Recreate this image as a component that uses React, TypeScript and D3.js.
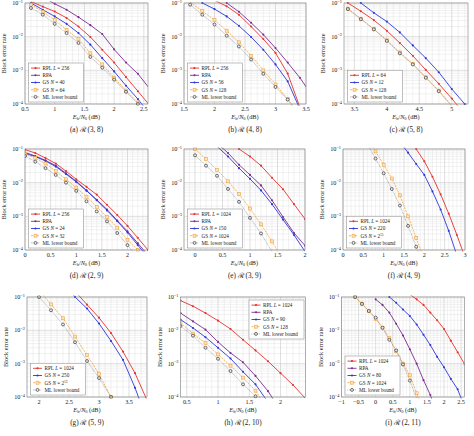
import * as d3 from 'd3';

type Pt = [number, number];
type Kind = 'rpl' | 'rpa' | 'gs' | 'gsb' | 'ml';

// (a) R(3,8)
const aRpl: Pt[] = [[0.6, 0.11], [0.8, 0.078], [1.0, 0.056], [1.2, 0.036], [1.4, 0.02], [1.6, 0.0098], [1.8, 0.0041], [2.0, 0.0017], [2.2, 0.00063], [2.4, 0.00024], [2.6, 0.00009]];
const aRpa: Pt[] = [[0.8, 0.15], [1.0, 0.095], [1.2, 0.063], [1.4, 0.038], [1.6, 0.022], [1.8, 0.012], [2.0, 0.0042], [2.2, 0.0017], [2.4, 0.00079], [2.6, 0.00028]];
const aGs: Pt[] = [[0.6, 0.1], [0.8, 0.063], [1.0, 0.04], [1.2, 0.024], [1.4, 0.0128], [1.6, 0.0058], [1.8, 0.0023], [2.0, 0.00093], [2.2, 0.00035], [2.4, 0.00014], [2.6, 0.00005]];
const aGsb: Pt[] = [[0.6, 0.09], [0.8, 0.055], [1.0, 0.031], [1.2, 0.016], [1.4, 0.0085], [1.6, 0.0032], [1.8, 0.0015], [2.0, 0.0006], [2.2, 0.00025], [2.4, 0.00011]];
const aMl: Pt[] = [[0.6, 0.071], [0.8, 0.045], [1.0, 0.024], [1.2, 0.0128], [1.4, 0.0065], [1.6, 0.0025], [1.8, 0.0012], [2.0, 0.00053], [2.2, 0.00023], [2.4, 0.0001]];

// (b) R(4,8)
const bRpl: Pt[] = [[2.0, 0.12], [2.2, 0.08], [2.4, 0.045], [2.6, 0.02], [2.8, 0.0085], [3.0, 0.0033], [3.2, 0.0008], [3.4, 0.00008]];
const bRpa: Pt[] = [[2.2, 0.1], [2.4, 0.055], [2.6, 0.026], [2.8, 0.0115], [3.0, 0.0046], [3.2, 0.0017], [3.4, 0.0006], [3.6, 0.00018]];
const bGs: Pt[] = [[1.8, 0.1], [2.0, 0.066], [2.2, 0.04], [2.4, 0.021], [2.6, 0.0098], [2.8, 0.0041], [3.0, 0.0015], [3.2, 0.00047], [3.4, 0.00007]];
const bGsb: Pt[] = [[1.6, 0.105], [1.8, 0.058], [2.0, 0.031], [2.2, 0.015], [2.4, 0.0068], [2.6, 0.0027], [2.8, 0.001], [3.0, 0.00038], [3.2, 0.00014], [3.4, 0.00004]];
const bMl: Pt[] = [[1.6, 0.089], [1.8, 0.045], [2.0, 0.023], [2.2, 0.0107], [2.4, 0.0051], [2.6, 0.0021], [2.8, 0.00079], [3.0, 0.00032], [3.2, 0.000135], [3.4, 0.00005]];

// (c) R(5,8)
const cRpl: Pt[] = [[3.4, 0.1], [3.6, 0.057], [3.8, 0.031], [4.0, 0.015], [4.2, 0.0065], [4.4, 0.0027], [4.6, 0.00103], [4.8, 0.0004], [5.0, 0.000145], [5.2, 0.00005]];
const cGs: Pt[] = [[3.6, 0.1], [3.8, 0.051], [4.0, 0.028], [4.2, 0.0134], [4.4, 0.0055], [4.6, 0.0023], [4.8, 0.00088], [5.0, 0.00028], [5.2, 0.0001]];
const cGsb: Pt[] = [[3.4, 0.068], [3.6, 0.034], [3.8, 0.017], [4.0, 0.0078], [4.2, 0.0034], [4.4, 0.00155], [4.6, 0.00062], [4.8, 0.00025], [5.0, 0.00009]];
const cMl: Pt[] = [[3.4, 0.066], [3.6, 0.033], [3.8, 0.0165], [4.0, 0.0075], [4.2, 0.0032], [4.4, 0.0015], [4.6, 0.0006], [4.8, 0.00024], [5.0, 0.000085]];

// (d) R(2,9)
const dRpl: Pt[] = [[0, 0.096], [0.2, 0.076], [0.4, 0.054], [0.6, 0.037], [0.8, 0.022], [1.0, 0.0126], [1.2, 0.0075], [1.4, 0.0044], [1.6, 0.0022], [1.8, 0.0011], [2.0, 0.00052], [2.2, 0.00023], [2.4, 0.0001]];
const dRpa: Pt[] = [[0, 0.079], [0.2, 0.062], [0.4, 0.046], [0.6, 0.032], [0.8, 0.019], [1.0, 0.011], [1.2, 0.0059], [1.4, 0.0031], [1.6, 0.0016], [1.8, 0.00075], [2.0, 0.00036], [2.2, 0.00016], [2.4, 0.00007]];
const dGs: Pt[] = [[0, 0.074], [0.2, 0.06], [0.4, 0.044], [0.6, 0.03], [0.8, 0.018], [1.0, 0.0105], [1.2, 0.0058], [1.4, 0.003], [1.6, 0.0015], [1.8, 0.00072], [2.0, 0.00033], [2.2, 0.00014], [2.4, 0.00006]];
const dGsb: Pt[] = [[0, 0.072], [0.2, 0.054], [0.4, 0.037], [0.6, 0.022], [0.8, 0.0126], [1.0, 0.0071], [1.2, 0.0038], [1.4, 0.0019], [1.6, 0.00095], [1.8, 0.00046], [2.0, 0.0002], [2.2, 0.0001]];
const dMl: Pt[] = [[0, 0.062], [0.2, 0.042], [0.4, 0.027], [0.6, 0.017], [0.8, 0.01], [1.0, 0.0057], [1.2, 0.0028], [1.4, 0.0014], [1.6, 0.00071], [1.8, 0.00032], [2.0, 0.00014], [2.2, 0.00006]];

// (e) R(3,9)
const eRpl: Pt[] = [[0.8, 0.1], [1.0, 0.06], [1.2, 0.032], [1.4, 0.014], [1.6, 0.0064], [1.8, 0.0023], [2.0, 0.00083]];
const eRpa: Pt[] = [[0.4, 0.15], [0.6, 0.076], [0.8, 0.034], [1.0, 0.017], [1.2, 0.0083], [1.4, 0.003], [1.6, 0.00096], [1.8, 0.00032], [2.0, 0.000135]];
const eGs: Pt[] = [[0.4, 0.12], [0.6, 0.06], [0.8, 0.027], [1.0, 0.013], [1.2, 0.0059], [1.4, 0.0023], [1.6, 0.0008], [1.8, 0.00028], [2.0, 0.00009]];
const eGsb: Pt[] = [[0, 0.1], [0.2, 0.05], [0.4, 0.024], [0.6, 0.011], [0.8, 0.0046], [1.0, 0.0017], [1.2, 0.00058], [1.4, 0.00018], [1.6, 0.00005]];
const eMl: Pt[] = [[0, 0.065], [0.2, 0.032], [0.4, 0.016], [0.6, 0.0065], [0.8, 0.0027], [1.0, 0.0009], [1.2, 0.00031], [1.4, 0.00009]];

// (f) R(4,9)
const fRpl: Pt[] = [[1.8, 0.1], [2.0, 0.043], [2.2, 0.015], [2.4, 0.0045], [2.6, 0.0012], [2.8, 0.00028], [3.0, 0.00006]];
const fGs: Pt[] = [[1.4, 0.16], [1.6, 0.078], [1.8, 0.036], [2.0, 0.017], [2.2, 0.0055], [2.4, 0.0016], [2.6, 0.00037], [2.8, 0.00007]];
const fGsb: Pt[] = [[0.6, 0.2], [0.8, 0.085], [1.0, 0.034], [1.2, 0.0133], [1.4, 0.0042], [1.6, 0.001], [1.8, 0.00023], [2.0, 0.00005]];
const fMl: Pt[] = [[0.6, 0.14], [0.8, 0.052], [1.0, 0.019], [1.2, 0.0065], [1.4, 0.0021], [1.6, 0.00052], [1.8, 0.000125], [2.0, 0.00003]];

// (g) R(5,9)
const gRpl: Pt[] = [[2.6, 0.15], [2.8, 0.059], [3.0, 0.024], [3.2, 0.0083], [3.4, 0.0023], [3.6, 0.00052], [3.8, 0.00008]];
const gGs: Pt[] = [[2.4, 0.3], [2.6, 0.1], [2.8, 0.045], [3.0, 0.016], [3.2, 0.0048], [3.4, 0.0013], [3.6, 0.00019], [3.8, 0.00002]];
const gGsb: Pt[] = [[2.0, 0.16], [2.2, 0.06], [2.4, 0.023], [2.6, 0.0065], [2.8, 0.0018], [3.0, 0.00049], [3.2, 0.0001]];
const gMl: Pt[] = [[2.0, 0.1], [2.2, 0.04], [2.4, 0.015], [2.6, 0.0044], [2.8, 0.0012], [3.0, 0.00037], [3.2, 0.0001]];

// (h) R(2,10)
const hRpl: Pt[] = [[0.4, 0.078], [0.6, 0.053], [0.8, 0.033], [1.0, 0.0195], [1.2, 0.011], [1.4, 0.0052], [1.6, 0.0025], [1.8, 0.00118], [2.0, 0.00052], [2.2, 0.00023], [2.4, 0.00009]];
const hRpa: Pt[] = [[0.4, 0.033], [0.6, 0.0186], [0.8, 0.0105], [1.0, 0.0045], [1.2, 0.0021], [1.4, 0.0011], [1.6, 0.00043], [1.8, 0.00015], [2.0, 0.00004]];
const hGs: Pt[] = [[0.4, 0.021], [0.6, 0.0118], [0.8, 0.0062], [1.0, 0.003], [1.2, 0.00143], [1.4, 0.00057], [1.6, 0.00024], [1.8, 0.00007]];
const hGsb: Pt[] = [[0.4, 0.017], [0.6, 0.0079], [0.8, 0.0042], [1.0, 0.0019], [1.2, 0.00087], [1.4, 0.00038], [1.6, 0.000155], [1.8, 0.00004]];
const hMl: Pt[] = [[0.4, 0.0135], [0.6, 0.0069], [0.8, 0.003], [1.0, 0.0014], [1.2, 0.0006], [1.4, 0.00024], [1.6, 0.000105]];

// (i) R(2,11)
const iRpl: Pt[] = [[1.0, 0.12], [1.2, 0.085], [1.4, 0.058], [1.6, 0.034], [1.8, 0.02], [2.0, 0.011], [2.2, 0.0049], [2.4, 0.0022], [2.6, 0.00098]];
const iRpa: Pt[] = [[0, 0.085], [0.2, 0.058], [0.4, 0.034], [0.6, 0.0158], [0.8, 0.007], [1.0, 0.0027], [1.2, 0.001], [1.4, 0.00032], [1.6, 0.000115], [1.8, 0.00003]];
const iGs: Pt[] = [[0.4, 0.1], [0.6, 0.067], [0.8, 0.042], [1.0, 0.027], [1.2, 0.015], [1.4, 0.0074], [1.6, 0.0036], [1.8, 0.0016], [2.0, 0.00078], [2.2, 0.00035], [2.4, 0.00017], [2.6, 0.00005]];
const iGsb: Pt[] = [[-0.6, 0.1], [-0.4, 0.063], [-0.2, 0.038], [0, 0.022], [0.2, 0.012], [0.4, 0.0058], [0.6, 0.0024], [0.8, 0.001], [1.0, 0.00045], [1.2, 0.00013], [1.4, 0.00004]];
const iMl: Pt[] = [[-0.6, 0.1], [-0.4, 0.062], [-0.2, 0.038], [0, 0.024], [0.2, 0.012], [0.4, 0.0052], [0.6, 0.0025], [0.8, 0.00095], [1.0, 0.00031], [1.2, 0.00009]];

const Y_EXPONENTS = [-1, -2, -3, -4];

const COLORS: Record<Kind, string> = {
  rpl: '#e8312c',
  rpa: '#7b2d8f',
  gs: '#2b35dc',
  gsb: '#f2a23a',
  ml: '#555555',
};

const FONT = '"Liberation Serif", "DejaVu Serif", serif';

interface Series { kind: Kind; data: Pt[]; param?: string; sup?: string }
interface PanelSpec {
  letter: string; code: string;
  left: number; right: number; top: number; bottom: number;
  xDomain: [number, number]; xTicks: number[];
  legend: 'bl' | 'tr';
  series: Series[];
}

const panels: PanelSpec[] = [
  { letter: 'a', code: '3, 8', left: 25, right: 148, top: 3, bottom: 104, xDomain: [0.5, 2.57], xTicks: [0.5, 1, 1.5, 2, 2.5], legend: 'bl',
    series: [{ kind: 'rpl', data: aRpl, param: '256' }, { kind: 'rpa', data: aRpa }, { kind: 'gs', data: aGs, param: '40' }, { kind: 'gsb', data: aGsb, param: '64' }, { kind: 'ml', data: aMl }] },
  { letter: 'b', code: '4, 8', left: 184, right: 306, top: 3, bottom: 104, xDomain: [1.5, 3.5], xTicks: [1.5, 2, 2.5, 3, 3.5], legend: 'bl',
    series: [{ kind: 'rpl', data: bRpl, param: '256' }, { kind: 'rpa', data: bRpa }, { kind: 'gs', data: bGs, param: '56' }, { kind: 'gsb', data: bGsb, param: '128' }, { kind: 'ml', data: bMl }] },
  { letter: 'c', code: '5, 8', left: 344, right: 468, top: 3, bottom: 104, xDomain: [3.34, 5.25], xTicks: [3.5, 4, 4.5, 5], legend: 'bl',
    series: [{ kind: 'rpl', data: cRpl, param: '64' }, { kind: 'gs', data: cGs, param: '12' }, { kind: 'gsb', data: cGsb, param: '128' }, { kind: 'ml', data: cMl }] },
  { letter: 'd', code: '2, 9', left: 25, right: 148, top: 149, bottom: 250, xDomain: [0, 2.4], xTicks: [0, 0.5, 1, 1.5, 2], legend: 'bl',
    series: [{ kind: 'rpl', data: dRpl, param: '256' }, { kind: 'rpa', data: dRpa }, { kind: 'gs', data: dGs, param: '24' }, { kind: 'gsb', data: dGsb, param: '32' }, { kind: 'ml', data: dMl }] },
  { letter: 'e', code: '3, 9', left: 184, right: 305, top: 149, bottom: 250, xDomain: [-0.2, 2], xTicks: [0, 0.5, 1, 1.5, 2], legend: 'bl',
    series: [{ kind: 'rpl', data: eRpl, param: '1024' }, { kind: 'rpa', data: eRpa }, { kind: 'gs', data: eGs, param: '150' }, { kind: 'gsb', data: eGsb, param: '1024' }, { kind: 'ml', data: eMl }] },
  { letter: 'f', code: '4, 9', left: 343, right: 465, top: 149, bottom: 250, xDomain: [0, 3], xTicks: [0, 0.5, 1, 1.5, 2, 2.5, 3], legend: 'bl',
    series: [{ kind: 'rpl', data: fRpl, param: '1024' }, { kind: 'gs', data: fGs, param: '220' }, { kind: 'gsb', data: fGsb, param: '2', sup: '15' }, { kind: 'ml', data: fMl }] },
  { letter: 'g', code: '5, 9', left: 27, right: 147, top: 297, bottom: 397, xDomain: [1.8, 3.8], xTicks: [2, 2.5, 3, 3.5], legend: 'bl',
    series: [{ kind: 'rpl', data: gRpl, param: '1024' }, { kind: 'gs', data: gGs, param: '250' }, { kind: 'gsb', data: gGsb, param: '2', sup: '13' }, { kind: 'ml', data: gMl }] },
  { letter: 'h', code: '2, 10', left: 180.5, right: 305.5, top: 297, bottom: 397, xDomain: [0.4, 2.4], xTicks: [0.5, 1, 1.5, 2], legend: 'tr',
    series: [{ kind: 'rpl', data: hRpl, param: '1024' }, { kind: 'rpa', data: hRpa }, { kind: 'gs', data: hGs, param: '90' }, { kind: 'gsb', data: hGsb, param: '128' }, { kind: 'ml', data: hMl }] },
  { letter: 'i', code: '2, 11', left: 341.5, right: 464.5, top: 297, bottom: 397, xDomain: [-1, 2.6], xTicks: [-1, -0.5, 0, 0.5, 1, 1.5, 2, 2.5], legend: 'bl',
    series: [{ kind: 'rpl', data: iRpl, param: '1024' }, { kind: 'rpa', data: iRpa }, { kind: 'gs', data: iGs, param: '80' }, { kind: 'gsb', data: iGsb, param: '1024' }, { kind: 'ml', data: iMl }] },
];

function fmtTick(v: number) {
  return v < 0 ? '\u2212' + String(Math.abs(v)) : String(v);
}

function Marker({ kind, cx, cy }: { kind: Kind; cx: number; cy: number }) {
  if (kind === 'gsb') {
    return <rect x={cx - 1.5} y={cy - 1.5} width={3} height={3} fill="#fbe3c2" stroke={COLORS.gsb} strokeWidth={0.6} />;
  }
  if (kind === 'ml') {
    return <circle cx={cx} cy={cy} r={1.5} fill="#e8e8e8" stroke="#222" strokeWidth={0.6} />;
  }
  return <circle cx={cx} cy={cy} r={1.05} fill={COLORS[kind]} />;
}

function lineStyle(kind: Kind) {
  if (kind === 'gsb') return { stroke: COLORS.gsb, strokeWidth: 0.8, strokeDasharray: '2,1' };
  if (kind === 'ml') return { stroke: '#666', strokeWidth: 0.6, strokeDasharray: '0.7,0.8' };
  return { stroke: COLORS[kind], strokeWidth: 0.9 };
}

function LegendLabel({ s }: { s: Series }) {
  if (s.kind === 'rpl') return <>RPL <tspan fontStyle="italic">L</tspan> = {s.param}</>;
  if (s.kind === 'rpa') return <>RPA</>;
  if (s.kind === 'ml') return <>ML lower bound</>;
  return (
    <>GS <tspan fontStyle="italic">N</tspan> = {s.param}{s.sup && <tspan dy={-1.8} fontSize={3.6}>{s.sup}</tspan>}</>
  );
}

function Panel({ p, idx }: { p: PanelSpec; idx: number }) {
  const x = d3.scaleLinear().domain(p.xDomain).range([p.left, p.right]);
  const y = d3.scaleLog().domain([1e-4, 1e-1]).range([p.bottom, p.top]);
  const clip = `clip-${idx}`;

  const minorX: number[] = [];
  for (let i = Math.ceil(p.xDomain[0] * 10 - 1e-6); i <= Math.floor(p.xDomain[1] * 10 + 1e-6); i++) {
    if (i % 5 !== 0) minorX.push(i / 10);
  }
  const minorY: number[] = [];
  for (let k = -4; k < -1; k++) for (let m = 2; m <= 9; m++) minorY.push(m * Math.pow(10, k));

  const line = d3.line<Pt>().x(d => x(d[0])).y(d => y(d[1]));

  const rowH = 7.2;
  const lw = 55;
  const lh = p.series.length * rowH + 3;
  const lx = p.legend === 'bl' ? p.left + 3.5 : p.right - 1.5 - lw;
  const ly = p.legend === 'bl' ? p.bottom - 2 - lh : p.top + 3;
  const cxm = (p.left + p.right) / 2;
  const cym = (p.top + p.bottom) / 2;

  return (
    <g>
      <defs>
        <clipPath id={clip}>
          <rect x={p.left} y={p.top - 1.5} width={p.right - p.left} height={p.bottom - p.top + 3} />
        </clipPath>
      </defs>
      {/* grid */}
      {minorX.map(v => (
        <line key={'mx' + v} x1={x(v)} x2={x(v)} y1={p.top} y2={p.bottom} stroke="#d9d9d9" strokeWidth={0.35} />
      ))}
      {minorY.map(v => (
        <line key={'my' + v} x1={p.left} x2={p.right} y1={y(v)} y2={y(v)} stroke="#d9d9d9" strokeWidth={0.35} />
      ))}
      {p.xTicks.map(v => (
        <line key={'gx' + v} x1={x(v)} x2={x(v)} y1={p.top} y2={p.bottom} stroke="#b8b8b8" strokeWidth={0.45} />
      ))}
      {Y_EXPONENTS.map(e => (
        <line key={'gy' + e} x1={p.left} x2={p.right} y1={y(Math.pow(10, e))} y2={y(Math.pow(10, e))} stroke="#b8b8b8" strokeWidth={0.45} />
      ))}

      {/* series */}
      <g clipPath={`url(#${clip})`}>
        {p.series.map(s => (
          <path key={'l' + s.kind} d={line(s.data) ?? ''} fill="none" {...lineStyle(s.kind)} />
        ))}
        {p.series.map(s =>
          s.data
            .filter(d => d[1] >= 0.99e-4 && d[1] <= 0.101 && d[0] >= p.xDomain[0] && d[0] <= p.xDomain[1])
            .map((d, j) => <Marker key={s.kind + j} kind={s.kind} cx={x(d[0])} cy={y(d[1])} />)
        )}
      </g>

      {/* frame */}
      <rect x={p.left} y={p.top} width={p.right - p.left} height={p.bottom - p.top} fill="none" stroke="#808080" strokeWidth={0.6} />

      {/* tick labels */}
      {p.xTicks.map(v => (
        <text key={'tx' + v} x={x(v)} y={p.bottom + 7} textAnchor="middle" fontSize={6.2} fill="#222">{fmtTick(v)}</text>
      ))}
      {Y_EXPONENTS.map(e => (
        <text key={'ty' + e} x={p.left - 2} y={y(Math.pow(10, e)) + 2} textAnchor="end" fontSize={6.2} fill="#222">
          10<tspan dy={-2.4} fontSize={4.3}>{'\u2212' + Math.abs(e)}</tspan>
        </text>
      ))}

      {/* axis labels */}
      <text x={cxm} y={p.bottom + 15} textAnchor="middle" fontSize={6.3} fill="#222">
        <tspan fontStyle="italic">E</tspan><tspan fontSize={4.4} dy={1.3}>b</tspan>
        <tspan dy={-1.3}>/</tspan><tspan fontStyle="italic">N</tspan><tspan fontSize={4.4} dy={1.3}>0</tspan>
        <tspan dy={-1.3}> (dB)</tspan>
      </text>
      <text transform={`translate(${p.left - 19},${cym}) rotate(-90)`} textAnchor="middle" fontSize={6.3} fill="#222">Block error rate</text>
      <text x={cxm} y={p.bottom + 28} textAnchor="middle" fontSize={7.2} fill="#222">
        ({p.letter}) {'\u211B'} ({p.code})
      </text>

      {/* legend */}
      <rect x={lx} y={ly} width={lw} height={lh} fill="#fff" stroke="#808080" strokeWidth={0.5} />
      {p.series.map((s, j) => {
        const ry = ly + 1.5 + rowH * (j + 0.5);
        return (
          <g key={'lg' + s.kind}>
            <line x1={lx + 2.5} x2={lx + 11.5} y1={ry} y2={ry} fill="none" {...lineStyle(s.kind)} />
            <Marker kind={s.kind} cx={lx + 7} cy={ry} />
            <text x={lx + 14} y={ry + 1.8} fontSize={5.2} fill="#222"><LegendLabel s={s} /></text>
          </g>
        );
      })}
    </g>
  );
}

export default function App() {
  return (
    <div style={{ position: 'absolute', left: 0, top: 0 }}>
      <svg width={474} height={436} viewBox="0 0 474 436" style={{ display: 'block', background: '#fff', fontFamily: FONT }}>
        {panels.map((p, i) => <Panel key={p.letter} p={p} idx={i} />)}
      </svg>
    </div>
  );
}
